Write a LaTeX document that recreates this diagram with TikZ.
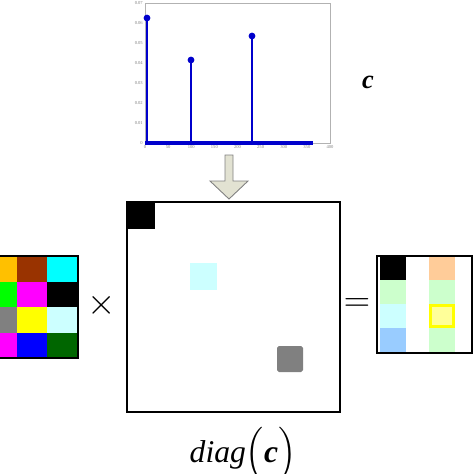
\documentclass[tikz,border=0pt]{standalone}
\usepackage{amsmath}
\usepackage{fontspec}
\setmainfont{Liberation Serif}
\definecolor{morange}{HTML}{FFC000}
\definecolor{mbrown}{HTML}{993300}
\definecolor{mcyan}{HTML}{00FFFF}
\definecolor{mgreen}{HTML}{00FF00}
\definecolor{mmagenta}{HTML}{FF00FF}
\definecolor{mgrey}{HTML}{808080}
\definecolor{myellow}{HTML}{FFFF00}
\definecolor{mpale}{HTML}{CCFFFF}
\definecolor{mblue}{HTML}{0000FF}
\definecolor{mdkgreen}{HTML}{006600}
\definecolor{rpeach}{HTML}{FFCC99}
\definecolor{rgreen}{HTML}{CCFFCC}
\definecolor{rblue}{HTML}{99CCFF}
\definecolor{ryellow}{HTML}{FFFF99}
\definecolor{stemblue}{HTML}{0000CC}
\definecolor{arrowfill}{HTML}{E2E2D2}

\begin{document}
\begin{tikzpicture}[x=0.02cm, y=-0.02cm,
    frame/.style = {draw, line width=1.4pt},
    stem/.style = {stemblue, line width=1.4pt},
    ticklab/.style = {font=\fontsize{2.6}{3}\selectfont, text=gray, inner sep=0.5pt}]
  \useasboundingbox (0,0) rectangle (474,474);

  % stem plot of c
  \draw[gray!60, line width=0.3pt] (145,3) rectangle (330,143);
  \foreach \v [count=\i] in {0,50,...,400}
    \node[ticklab, below] (xt\i) at (145+0.4625*\v,144) {\v};
  \foreach \v/\t [count=\i] in {0/0,1/0.01,2/0.02,3/0.03,4/0.04,5/0.05,6/0.06,7/0.07}
    \node[ticklab, left] (yt\i) at (144,143-20*\v) {\t};
  \draw[stem, line width=2.2pt] (145,143) -- (313,143);
  \foreach \x/\y in {147/18, 191/60, 252/36} {
    \draw[stem] (\x,143) -- (\x,\y);
    \fill[stemblue] (\x,\y) circle (3.4);
  }
  \node[font=\fontsize{15}{18}\selectfont] (clab) at (368,82) {\textbf{\textit{c}}};

  % arrow
  \draw[gray, fill=arrowfill, line width=0.5pt]
    (225,155) -- (233,155) -- (233,181) -- (248,181) -- (229,199)
    -- (210,181) -- (225,181) -- cycle;

  % diagonal matrix
  \fill (127,202) rectangle (155,229);
  \fill[mpale] (190,263) rectangle (217,290);
  \fill[mgrey, rounded corners=1pt] (277,346) rectangle (303,372);
  \draw[frame] (127,202) rectangle (340,412);
  \node[font=\fontsize{18}{21}\selectfont] (dlab) at (243,455)
    {\textit{diag}$\Bigl(\text{\textbf{\textit{c}}}\Bigr)$};

  % left matrix
  \foreach \row [count=\r from 0] in {{morange,mbrown,mcyan},{mgreen,mmagenta,black},
      {mgrey,myellow,mpale},{mmagenta,mblue,mdkgreen}}
    \foreach \c [count=\k from 0] in \row
      \fill[\c] (-13+30*\k,256+25.5*\r) rectangle ++(30,25.5);
  \draw[frame] (-13,256) rectangle (78,358);
  \node[font=\fontsize{20}{22}\selectfont] (times) at (102,305) {$\times$};

  % result matrix
  \node[font=\fontsize{20}{22}\selectfont] (eq) at (357,305) {$=$};
  \foreach \c/\x/\y in {black/380/256, rpeach/429/256, rgreen/380/280, rgreen/429/280,
      mpale/380/304, rblue/380/328, rgreen/429/328}
    \fill[\c] (\x,\y) rectangle ++(26,24);
  \filldraw[fill=ryellow, draw=myellow, line width=1.2pt] (430.5,305.5) rectangle (453.5,326.5);
  \draw[frame] (377,256) rectangle (472,353);
\end{tikzpicture}
\end{document}
